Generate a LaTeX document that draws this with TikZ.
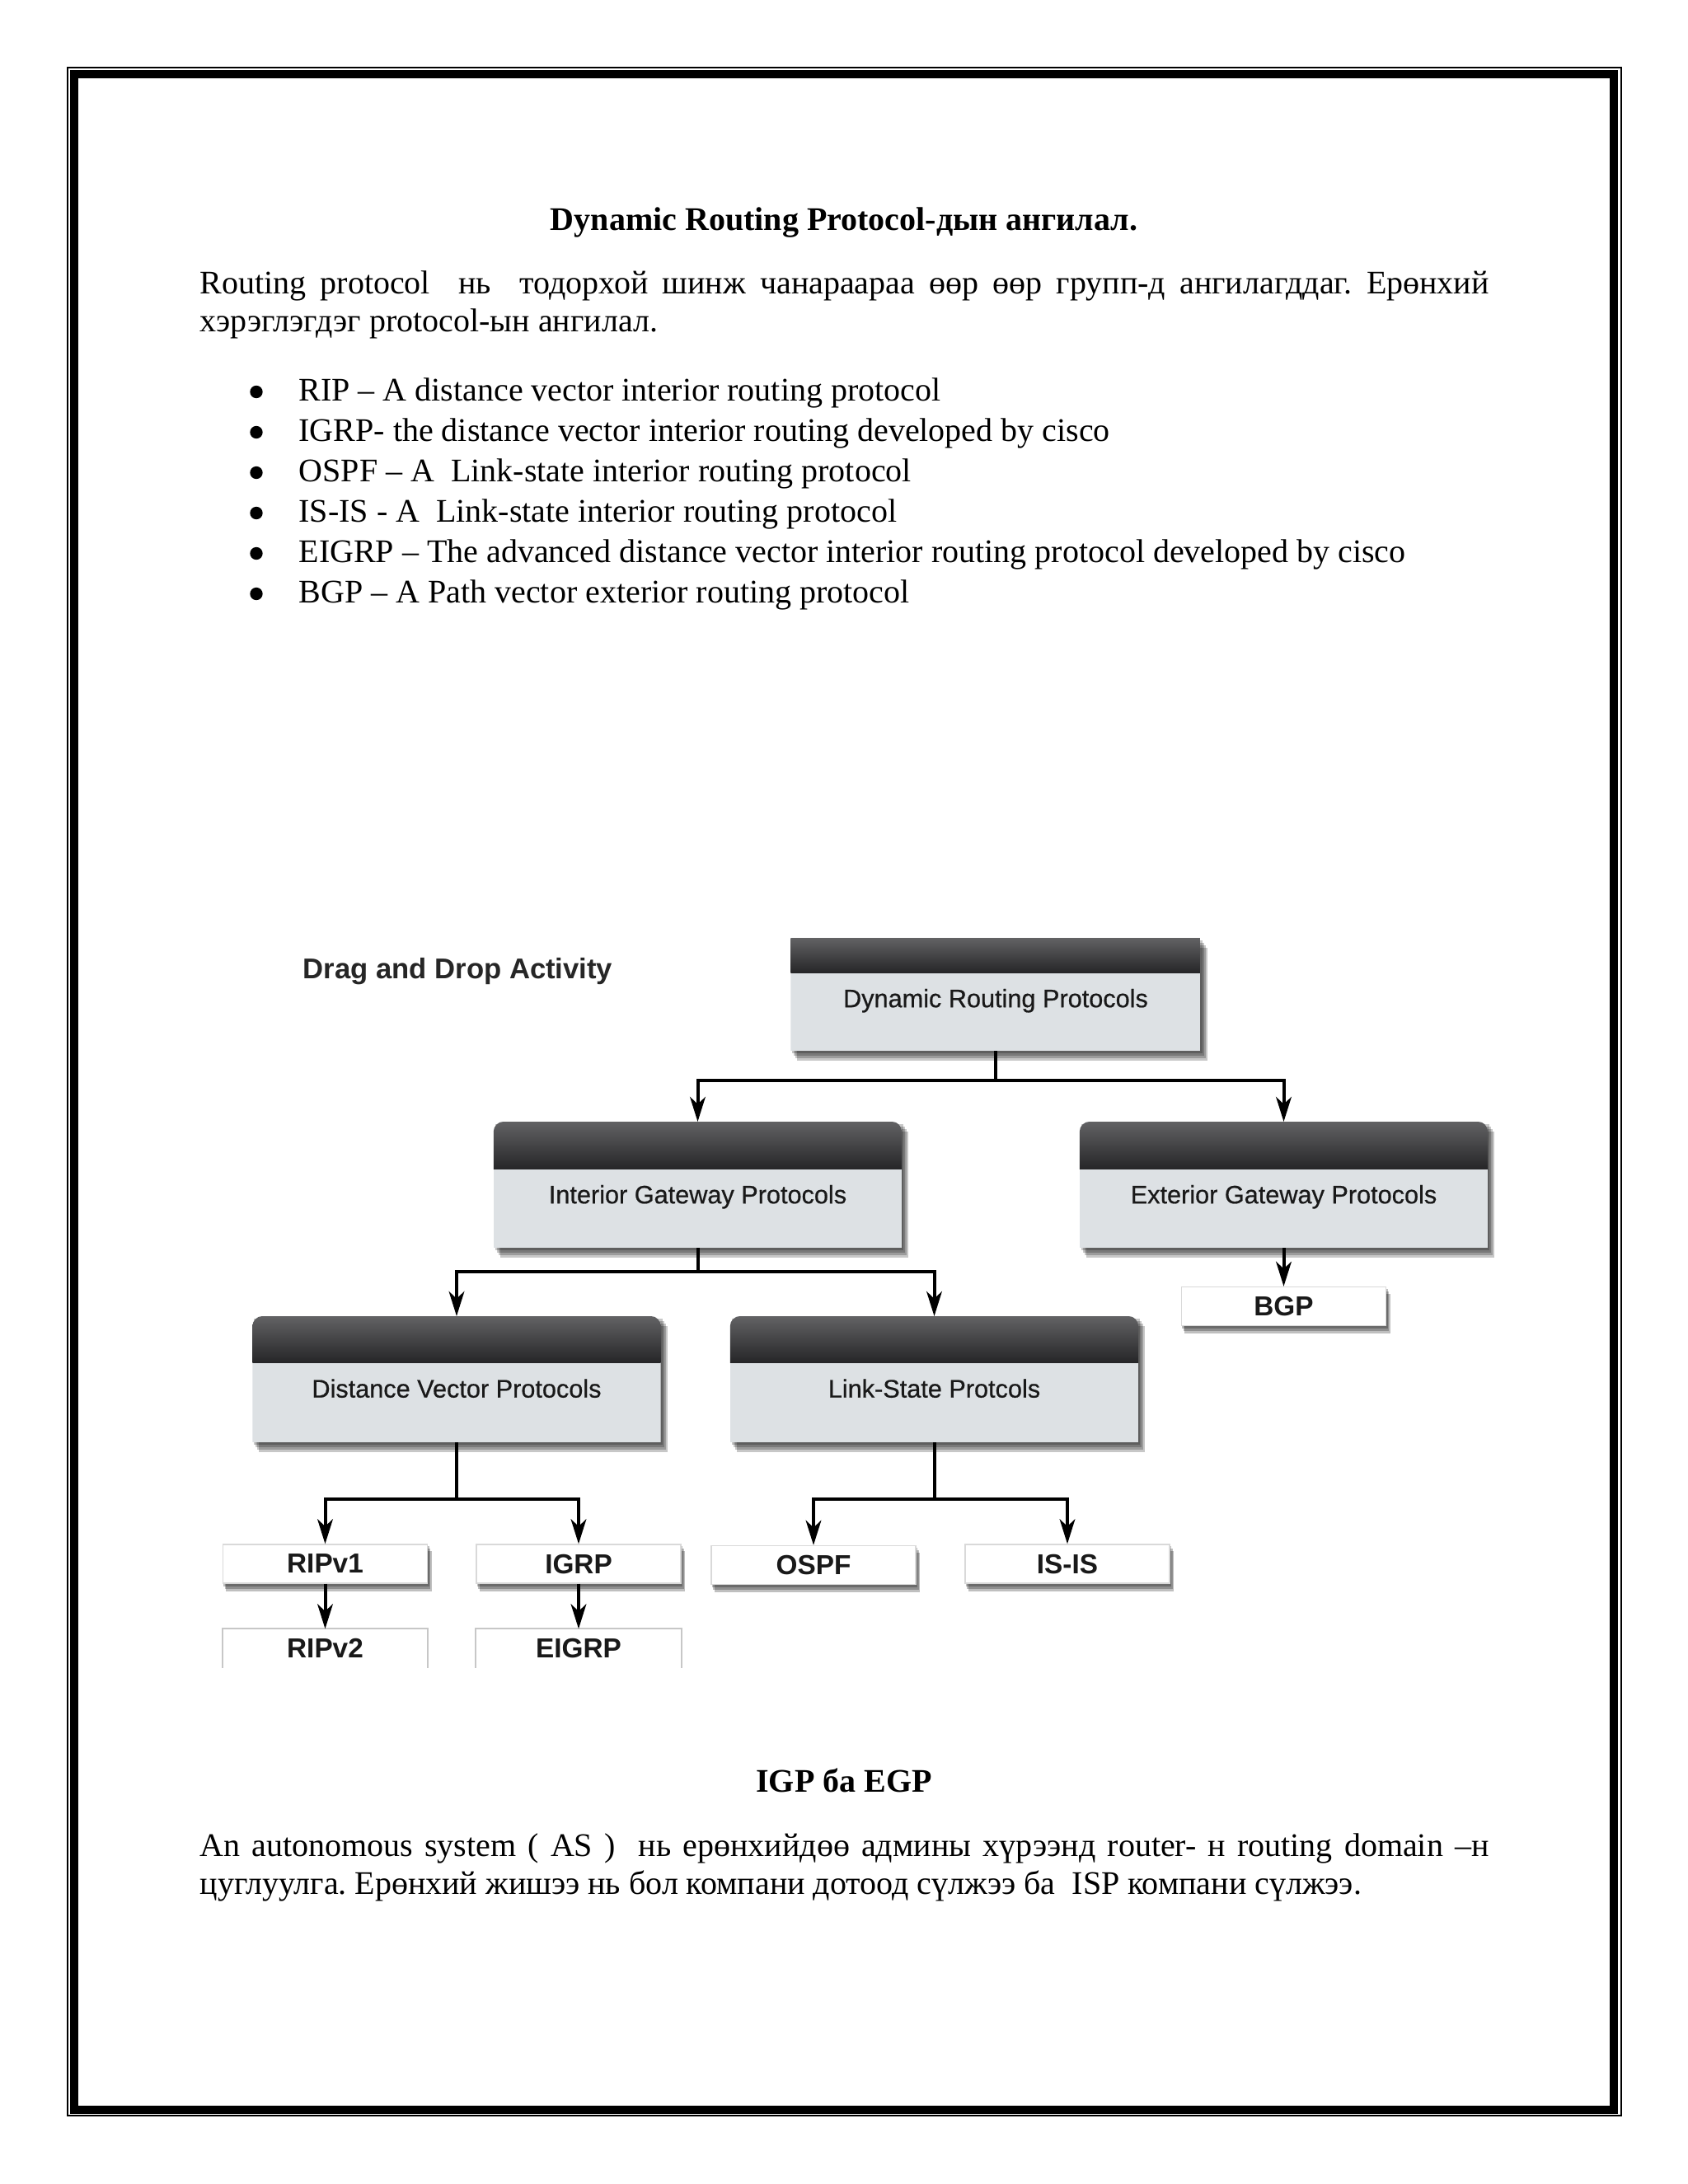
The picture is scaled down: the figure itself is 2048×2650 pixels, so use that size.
\documentclass[tikz,border=0pt]{standalone}
\usepackage{fontspec}
\setmainfont{Liberation Serif}
\newfontfamily\diafont{Liberation Sans}
\newfontfamily\diamedium[FakeBold=0.6]{Liberation Sans}
\usepackage{tikz}
\usetikzlibrary{calc}
\usetikzlibrary{arrows.meta}
\usetikzlibrary{backgrounds}
\definecolor{bodygray}{RGB}{221,225,228}
\definecolor{hdrtop}{RGB}{98,98,100}
\definecolor{hdrbot}{RGB}{38,38,40}
\frenchspacing

\begin{document}
\begin{tikzpicture}[
x=0.3pt, y=-0.3pt,
mytext/.style={
  anchor=base west,
  inner sep=0pt,
  font=\fontsize{12}{14}\selectfont},
mytitle/.style={
  anchor=base,
  inner sep=0pt,
  font=\fontsize{12}{14}\selectfont\bfseries},
mydot/.style={
  circle,
  fill=black,
  inner sep=0pt,
  minimum size=4.6pt},
mybox/.style n args={3}{
  minimum width=#1,
  minimum height=#2,
  text height=#3,
  text depth=0pt,
  inner sep=0pt,
  anchor=north,
  text=black!90,
  font=\diamedium\fontsize{9.2}{11}\selectfont},
myleaf/.style={
  minimum width=74.4pt,
  minimum height=14.1pt,
  inner sep=0pt,
  fill=white,
  draw=black!15,
  line width=0.4pt,
  text=black!90,
  font=\diafont\bfseries\fontsize{10}{12}\selectfont},
mycut/.style={
  minimum width=74.4pt,
  minimum height=13.8pt,
  inner sep=0pt,
  fill=white,
  text=black!90,
  font=\diafont\bfseries\fontsize{10}{12}\selectfont},
myline/.style={
  line width=1.2pt},
myarrow/.style={
  myline,
  -{Stealth[length=9pt, width=5.6pt, inset=2.6pt]}}
]
\useasboundingbox (0,0) rectangle (2048,2650);

% page frame
\draw[line width=0.6pt] (82,82) rectangle (1967,2567);
\draw[line width=3pt] (90,90) rectangle (1958,2560);

% text above the diagram
\node[mytitle] (title) at (1024,279) {Dynamic Routing Protocol-дын ангилал.};
\node[mytext] (intro1) at (242,356)
  {\makebox[469.2pt][s]{Routing protocol\ \ нь\ \ тодорхой шинж чанараараа өөр өөр групп-д ангилагддаг. Ерөнхий}};
\node[mytext] (intro2) at (242,402) {хэрэглэгдэг protocol-ын ангилал.};
\foreach \i/\entry in {
  0/{RIP – A distance vector interior routing protocol},
  1/{IGRP- the distance vector interior routing developed by cisco},
  2/{OSPF – A\ \ Link-state interior routing protocol},
  3/{IS-IS - A\ \ Link-state interior routing protocol},
  4/{EIGRP – The advanced distance vector interior routing protocol developed by cisco},
  5/{BGP – A Path vector exterior routing protocol}}{
  \node[mydot] (dot\i) at (311,475.5+49*\i) {};
  \node[mytext] (item\i) at (362,486+49*\i) {\entry};
}

% diagram
\node[mytext, text=black!85, font=\diafont\bfseries\fontsize{10.4}{12}\selectfont]
  (dnd) at (367,1187) {Drag and Drop Activity};

\node[mybox={148.8pt}{40.8pt}{9.3pt}] (drp) at (1208,1138) {Dynamic Routing Protocols};
\node[mybox={148.2pt}{45.6pt}{13.5pt}] (igp) at (846.5,1361) {Interior Gateway Protocols};
\node[mybox={148.2pt}{45.6pt}{13.5pt}] (egp) at (1557.5,1361) {Exterior Gateway Protocols};
\node[mybox={148.2pt}{45.6pt}{13.2pt}] (dv) at (554,1597) {Distance Vector Protocols};
\node[mybox={148.2pt}{45.6pt}{13.2pt}] (ls) at (1133.5,1597) {Link-State Protcols};

\node[myleaf] (bgp) at (1557.5,1585) {BGP};
\node[myleaf] (rip1) at (394.5,1897.5) {RIPv1};
\node[myleaf] (igrp) at (702,1897.5) {IGRP};
\node[myleaf] (ospf) at (987,1899) {OSPF};
\node[myleaf] (isis) at (1295,1897.5) {IS-IS};
\node[mycut] (rip2) at (394.5,2000) {RIPv2};
\node[mycut] (eigrp) at (702,2000) {EIGRP};
\draw[black!22, line width=0.6pt] (rip2.south west) |- (rip2.north east) -- (rip2.south east);
\draw[black!22, line width=0.6pt] (eigrp.south west) |- (eigrp.north east) -- (eigrp.south east);

% headers, bodies and soft shadows of the boxes
\begin{scope}[on background layer]
\foreach \nm in {bgp,rip1,igrp,ospf,isis}
  \foreach \k in {1,2,3}
    \fill[black, opacity=.25]
      ($(\nm.north west)+(1.5*\k,3*\k)$) rectangle ($(\nm.south east)+(1.5*\k,3*\k)$);
\foreach \nm/\hh/\rad in {drp/42/0, igp/57/12, egp/57/12, dv/56/12, ls/56/12}{
  \foreach \k in {1,...,4}
    \fill[black, opacity=.22]
      ($(\nm.north west)+(2*\k,3*\k)$) rectangle ($(\nm.south east)+(2*\k,3*\k)$);
  \begin{scope}
    \clip (\nm.south west) -- ($(\nm.south west)!.5!(\nm.north west)$)
      [rounded corners=\rad*0.3pt] -- (\nm.north west) -- (\nm.north east)
      -- ($(\nm.north east)!.5!(\nm.south east)$)
      [sharp corners] -- (\nm.south east) -- cycle;
    \fill[bodygray] (\nm.north west) rectangle (\nm.south east);
    \shade[top color=hdrtop, bottom color=hdrbot]
      (\nm.north west) rectangle ($(\nm.north east)+(0,\hh)$);
  \end{scope}
}
\end{scope}

% connectors
\draw[myline] (drp.south) -- ++(0,36) coordinate (drp-j);
\draw[myarrow] (drp-j) -| (igp.north);
\draw[myarrow] (drp-j) -| (egp.north);
\draw[myline] (igp.south) -- ++(0,29) coordinate (igp-j);
\draw[myarrow] (igp-j) -| (dv.north);
\draw[myarrow] (igp-j) -| (ls.north);
\draw[myarrow] (egp.south) -- (bgp.north);
\draw[myline] (dv.south) -- ++(0,69) coordinate (dv-j);
\draw[myarrow] (dv-j) -| (rip1.north);
\draw[myarrow] (dv-j) -| (igrp.north);
\draw[myline] (ls.south) -- ++(0,69) coordinate (ls-j);
\draw[myarrow] (ls-j) -| (ospf.north);
\draw[myarrow] (ls-j) -| (isis.north);
\draw[myarrow] (rip1.south) -- (rip2.north);
\draw[myarrow] (igrp.south) -- (eigrp.north);

% text below the diagram
\node[mytitle] (igpegp) at (1024,2174) {IGP ба EGP};
\node[mytext] (as1) at (242,2252)
  {\makebox[469.2pt][s]{An autonomous system ( AS )\ \ нь ерөнхийдөө админы хүрээнд router- н routing domain –н}};
\node[mytext] (as2) at (242,2298)
  {цуглуулга. Ерөнхий жишээ нь бол компани дотоод сүлжээ ба\ \ ISP компани сүлжээ.};
\end{tikzpicture}
\end{document}
